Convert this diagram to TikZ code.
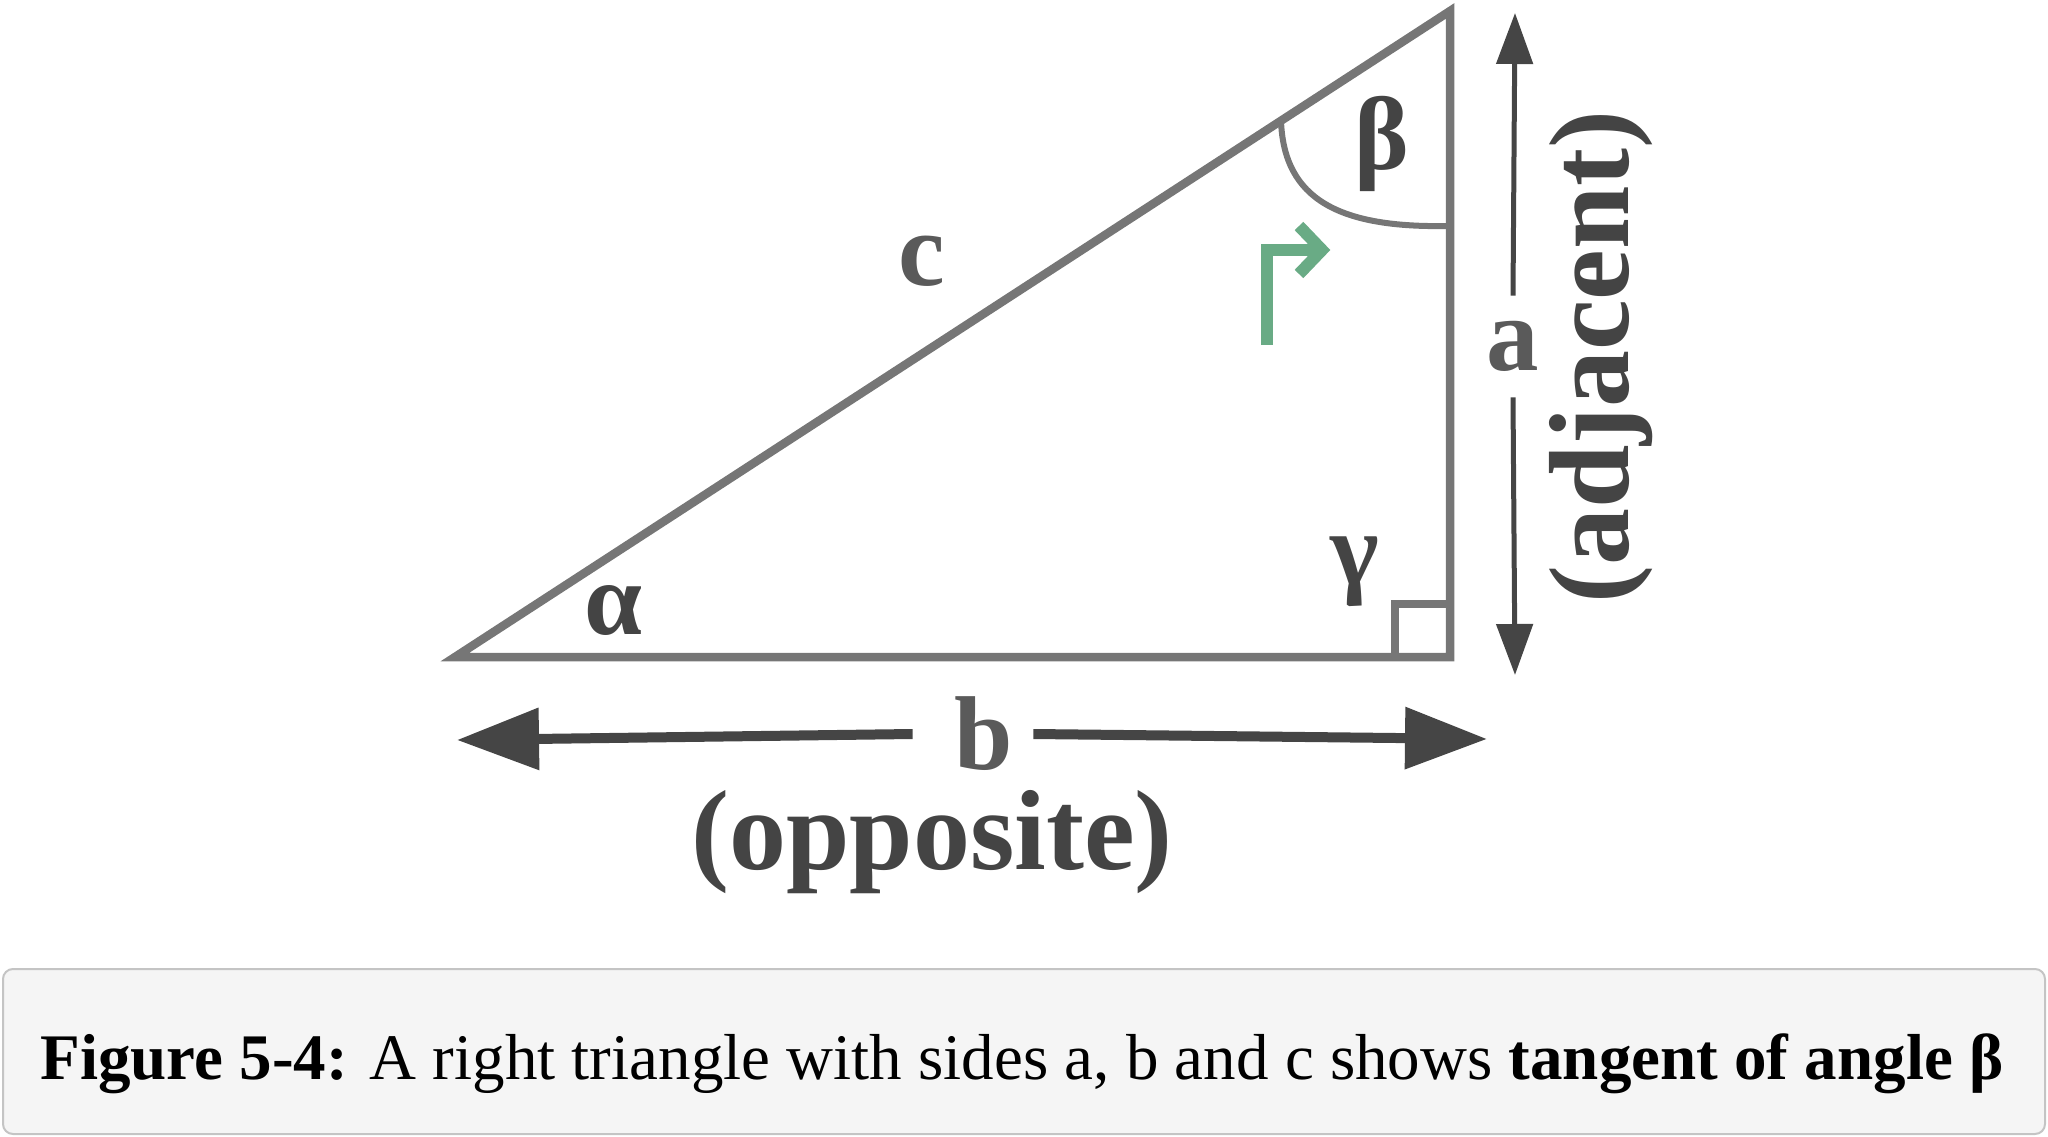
\documentclass[tikz,border=0pt]{standalone}
\usepackage{fontspec}
\setmainfont{Liberation Serif}
\usetikzlibrary{arrows.meta}
\definecolor{trigrey}{HTML}{767676}
\definecolor{txtdark}{HTML}{444444}
\definecolor{txtmid}{HTML}{5A5A5A}
\definecolor{arrdark}{HTML}{454545}
\definecolor{rtgreen}{HTML}{69AB85}
\definecolor{capfill}{HTML}{F5F5F5}
\definecolor{capline}{HTML}{C4C4C4}
\begin{document}
\begin{tikzpicture}[x=1pt,y=-1pt,
  side/.style={draw=trigrey, line width=8.5pt, line join=miter},
  anglearc/.style={draw=trigrey, line width=6pt},
  greenmark/.style={draw=rtgreen, line width=12pt, line join=miter},
  lbl/.style={text=txtdark, inner sep=0pt, font=\bfseries\fontsize{104}{110}\selectfont},
  sidelbl/.style={text=txtmid, inner sep=0pt, font=\bfseries\fontsize{105}{110}\selectfont},
  biglbl/.style={text=txtdark, inner sep=0pt, font=\bfseries\fontsize{114}{120}\selectfont},
  dimthick/.style={draw=arrdark, line width=10pt, -{Triangle[length=82pt,width=60pt]}},
  dimthin/.style={draw=arrdark, line width=5pt, -{Triangle[length=51pt,width=36pt]}},
  capbox/.style={draw=capline, fill=capfill, line width=2pt, rounded corners=10pt},
  captext/.style={text=black, inner sep=0pt, font=\fontsize{65}{70}\selectfont}
]
\useasboundingbox (0,0) rectangle (2048,1137);
% triangle
\coordinate (A) at (455,657);
\coordinate (B) at (1450,11);
\coordinate (C) at (1450,657);
\draw[side] (A) -- (B) -- (C) -- cycle;
% right-angle square
\coordinate (sq1) at (1395,657);
\coordinate (sq2) at (1395,604);
\coordinate (sq3) at (1450,604);
\draw[side] (sq1) -- (sq2) -- (sq3);
% angle arc at beta
\coordinate (arc1) at (1281,121);
\coordinate (arc2) at (1448,226);
\draw[anglearc] (arc1) .. controls (1284,200) and (1340,228) .. (arc2);
% green marker
\coordinate (g1) at (1267,345);
\coordinate (g2) at (1267,250);
\coordinate (g3) at (1322,250);
\coordinate (g4) at (1299,226);
\coordinate (g5) at (1299,274);
\draw[greenmark] (g1) -- (g2) -- (g3);
\draw[greenmark] (g4) -- (g3) -- (g5);
% angle and side labels
\node[lbl] (alpha) at (614,611) {α};
\node[lbl] (beta) at (1382,144) {β};
\node[lbl] (gamma) at (1355,572) {γ};
\node[sidelbl] (c) at (922,261) {c};
% side b dimension
\node[sidelbl] (b) at (984,734) {b};
\coordinate (bL) at (457,740);
\coordinate (bR) at (1487,739);
\draw[dimthick] ([xshift=-42pt]b.west) -- (bL);
\draw[dimthick] ([xshift=20pt]b.east) -- (bR);
\node[biglbl] (opp) at (932,842) {(opposite)};
% side a dimension
\node[sidelbl] (a) at (1513,346) {a};
\coordinate (aT) at (1515,13);
\coordinate (aB) at (1515,675);
\draw[dimthin] ([yshift=25pt]a.north) -- (aT);
\draw[dimthin] ([yshift=-26pt]a.south) -- (aB);
\node[biglbl, rotate=90] (adj) at (1601,357) {(adjacent)};
% caption
\node[capbox, minimum width=2042pt, minimum height=165pt, inner sep=0pt] (cap) at (1024,1051.5) {};
\node[captext, anchor=base] (captxt) at (1022,1079) {\textbf{Figure 5-4:} A right triangle with sides a, b and c shows \textbf{tangent of angle β}};
\end{tikzpicture}
\end{document}
